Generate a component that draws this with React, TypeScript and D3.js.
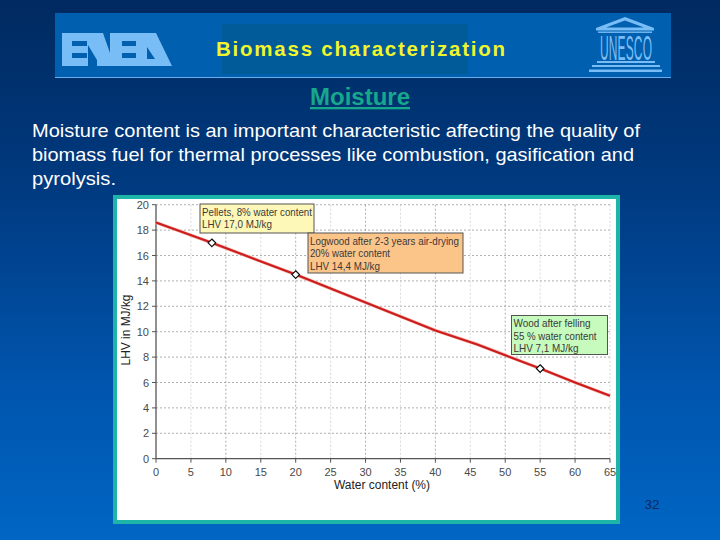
import React from "react";
import * as d3 from "d3";

const xTicks = [0, 5, 10, 15, 20, 25, 30, 35, 40, 45, 50, 55, 60, 65];
const yTicks = [0, 2, 4, 6, 8, 10, 12, 14, 16, 18, 20];
const lineX = [0, 8, 20, 30, 40, 46, 50, 55, 60, 65];
const lineY = [18.6, 17.0, 14.5, 12.3, 10.1, 9.0, 8.15, 7.1, 6.0, 4.95];
const markerX = [8, 20, 55];
const markerY = [17.0, 14.5, 7.1];
const bodyLines = [
  "Moisture content is an important characteristic affecting the quality of",
  "biomass fuel for thermal processes like combustion, gasification and",
  "pyrolysis.",
];
const bodyWidths = [608, 602, 84];
const callouts = [
  { lines: ["Pellets, 8% water content", "LHV 17,0 MJ/kg"], widths: [110, 70], x: 200, y: 204, w: 114, h: 29, fill: "#fdf8b8" },
  { lines: ["Logwood after 2-3 years air-drying", "20% water content", "LHV 14,4 MJ/kg"], widths: [149, 80, 70], x: 308, y: 233, w: 155, h: 40, fill: "#fbc58a" },
  { lines: ["Wood after felling", "55 % water content", "LHV 7,1 MJ/kg"], widths: [77, 83, 65], x: 511.5, y: 315.5, w: 96, h: 39, fill: "#c6fbbd" },
];

const sans = "'Liberation Sans', Arial, sans-serif";
const logo = "#79bdf7";
const band = "#005fae";

export default function App() {
  const x = d3.scaleLinear().domain([0, 65]).range([156, 610]);
  const y = d3.scaleLinear().domain([0, 20]).range([458.7, 204.7]);
  const line = d3.line<number>().x((d) => x(d)).y((_, i) => y(lineY[i]));
  const d = line(lineX) ?? "";
  return (
    <svg width={720} height={540} viewBox="0 0 720 540" style={{ position: "absolute", left: 0, top: 0 }} fontFamily={sans}>
      <defs>
        <linearGradient id="bg" x1="0" y1="0" x2="0" y2="1">
          <stop offset="0" stopColor="#002a60" />
          <stop offset="0.35" stopColor="#003a80" />
          <stop offset="0.7" stopColor="#0054ac" />
          <stop offset="1" stopColor="#0066c4" />
        </linearGradient>
      </defs>
      <rect width={720} height={540} fill="url(#bg)" />

      {/* header */}
      <rect x={55} y={13} width={616} height={65} fill={band} />
      <rect x={55} y={77} width={616} height={1} fill="#6aaeea" />
      <rect x={222} y={24} width={246} height={50} fill="#005b98" />
      <path d="M62 33H156L172 66H62Z" fill={logo} />
      <g fill={band}>
        <rect x={72} y={41} width={15} height={5} />
        <rect x={72} y={53} width={15} height={5} />
        <path d="M88 66V45L97 60V66Z" />
        <path d="M103 33H110V53Z" />
        <rect x={122} y={41} width={14} height={5} />
        <rect x={122} y={53} width={14} height={5} />
        <path d="M147 59V47L155 59Z" />
      </g>
      <g fill={logo} stroke="none">
        <path fillRule="evenodd" d="M625 17L654 28V30.5H596V28ZM625 20.5L606 27.5H644Z" />
        <rect x={598} y={31.5} width={54} height={1.4} />
        <text transform="translate(626,60) scale(1,2.9)" textAnchor="middle" fontSize={12} textLength={52} fill={logo}>UNESCO</text>
        <rect x={597} y={61} width={58} height={2} />
        <rect x={592} y={65} width={68} height={2} />
        <rect x={589} y={69.5} width={73} height={2.5} />
      </g>
      <text x={360.5} y={56} textAnchor="middle" fontSize={20.5} fontWeight="bold" fill="#f0f52c" textLength={289} lengthAdjust="spacing">Biomass characterization</text>

      <text x={360} y={105} textAnchor="middle" fontSize={23} fontWeight="bold" fill="#16a88c" textDecoration="underline" textLength={100} lengthAdjust="spacingAndGlyphs">Moisture</text>
      {bodyLines.map((t, i) => (
        <text key={t} x={32} y={137 + i * 24} fontSize={18.6} fill="#ffffff" textLength={bodyWidths[i]} lengthAdjust="spacingAndGlyphs">{t}</text>
      ))}

      {/* chart panel */}
      <rect x={115} y={197} width={503} height={325} fill="#ffffff" stroke="#1cb5a8" strokeWidth={4} />

      {/* grid */}
      <g stroke="#9a9a9a" strokeWidth={0.8} strokeDasharray="2 2">
        {yTicks.filter((t) => t > 0).map((t) => (
          <line key={t} x1={x(0)} x2={x(65)} y1={y(t)} y2={y(t)} />
        ))}
        {xTicks.filter((t) => t > 0).map((t) => (
          <line key={t} x1={x(t)} x2={x(t)} y1={y(20)} y2={y(0)} stroke={t % 10 === 5 ? "#cfcfcf" : "#9a9a9a"} />
        ))}
      </g>

      {/* axes */}
      <g stroke="#555555" strokeWidth={1.3}>
        <line x1={x(0)} x2={x(0)} y1={y(20)} y2={y(0)} />
        <line x1={x(0)} x2={x(65)} y1={y(0)} y2={y(0)} />
        {yTicks.map((t) => <line key={t} x1={x(0) - 4} x2={x(0)} y1={y(t)} y2={y(t)} strokeWidth={1} />)}
        {xTicks.map((t) => <line key={t} x1={x(t)} x2={x(t)} y1={y(0)} y2={y(0) + 4} strokeWidth={1} />)}
      </g>
      <g fontSize={11} fill="#4a4a4a">
        {yTicks.map((t) => (
          <text key={t} x={x(0) - 7} y={y(t) + 4} textAnchor="end">{t}</text>
        ))}
        {xTicks.map((t) => (
          <text key={t} x={x(t)} y={y(0) + 17} textAnchor="middle">{t}</text>
        ))}
      </g>
      <text x={382} y={489} textAnchor="middle" fontSize={12} fill="#222222" textLength={96} lengthAdjust="spacingAndGlyphs">Water content (%)</text>
      <text transform="translate(130,330) rotate(-90)" textAnchor="middle" fontSize={12} fill="#222222" textLength={71} lengthAdjust="spacingAndGlyphs">LHV in MJ/kg</text>

      {/* series */}
      <path d={d} fill="none" stroke="#f6b8b0" strokeWidth={3.4} />
      <path d={d} fill="none" stroke="#cc1c1c" strokeWidth={2.1} />
      {markerX.map((m, i) => {
        const cx = x(m), cy = y(markerY[i]);
        const r = 3.8;
        return <path key={m} d={`M${cx} ${cy - r}L${cx + r} ${cy}L${cx} ${cy + r}L${cx - r} ${cy}Z`} fill="#ffffff" stroke="#111111" strokeWidth={1.2} />;
      })}

      {/* callouts */}
      {callouts.map((c) => (
        <g key={c.lines[0]}>
          <rect x={c.x} y={c.y} width={c.w} height={c.h} fill={c.fill} stroke="#555555" strokeWidth={1} />
          {c.lines.map((t, i) => (
            <text key={t} x={c.x + 2} y={c.y + 11.5 + i * 12.5} fontSize={10.6} fill="#3a3a3a" textLength={c.widths[i]} lengthAdjust="spacingAndGlyphs">{t}</text>
          ))}
        </g>
      ))}

      <text x={652} y={509} textAnchor="middle" fontSize={13.5} fill="#0a2a60">32</text>
    </svg>
  );
}
